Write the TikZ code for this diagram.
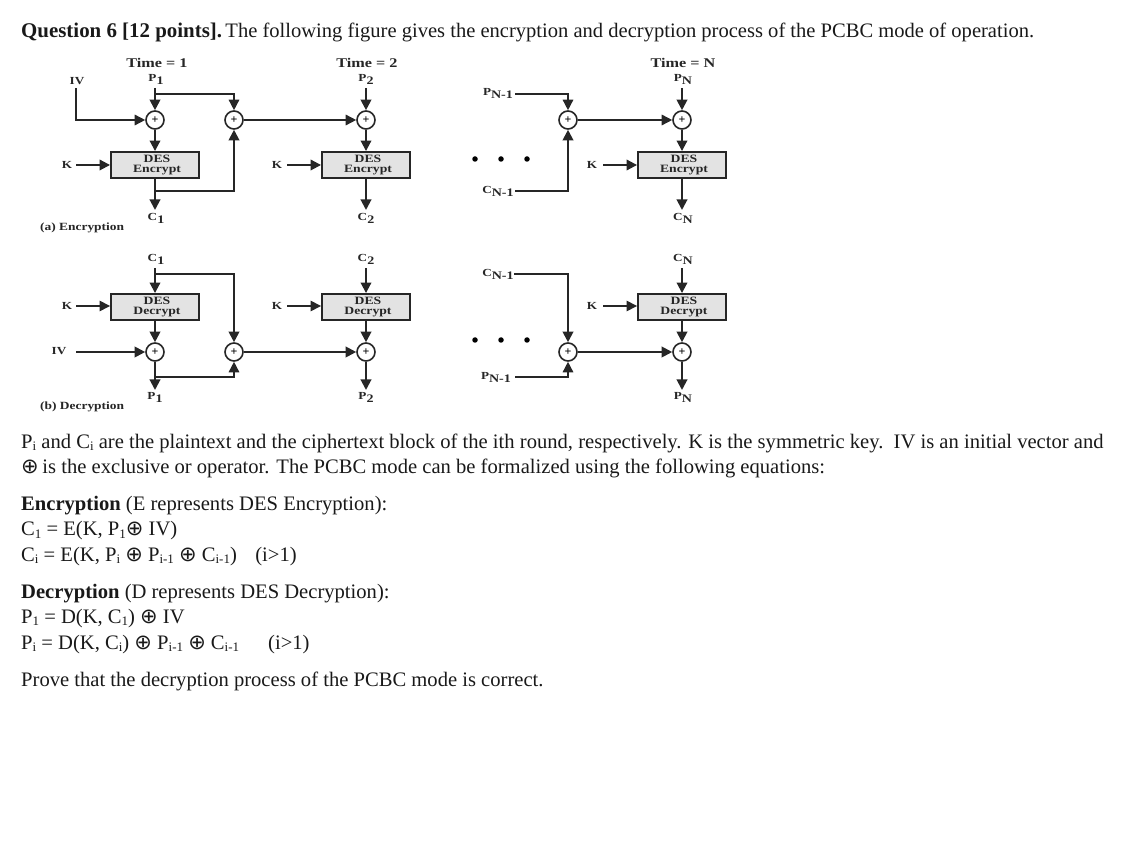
\documentclass[tikz,border=0pt]{standalone}
\usepackage{fontspec}
\setmainfont{Liberation Serif}
\newfontfamily\labfont[FakeStretch=1.22]{Liberation Serif}
\newfontfamily\symfont{DejaVu Sans}
\usetikzlibrary{arrows.meta}
\newcommand{\xo}{{\symfont\fontsize{21}{21}\selectfont ⊕}}
\newcommand{\sbx}[1]{\raisebox{-2.5pt}{\fontsize{13}{13}\selectfont #1}}
\newcommand{\lsb}[1]{\raisebox{-3pt}{\fontsize{11.5}{11.5}\selectfont #1}}
\newcommand{\boxlabel}[1]{\hspace*{4pt}DES\\[-1pt]\hspace*{4pt}#1}
\tikzset{
  txt/.style={anchor=base west,inner sep=0pt,font=\fontsize{20.6}{24}\selectfont,text=black!90},
  lab/.style={inner sep=0pt,font=\labfont\bfseries\fontsize{10.8}{11}\selectfont,text=black!85},
  timelab/.style={inner sep=0pt,font=\labfont\bfseries\fontsize{13.3}{14}\selectfont,text=black!85},
  captext/.style={anchor=west,inner sep=0pt,font=\labfont\bfseries\fontsize{11}{11}\selectfont,text=black!85},
  desbox/.style={draw=black!85,line width=1.9pt,fill=black!11,minimum width=88pt,minimum height=26pt,inner sep=0pt,align=center,font=\labfont\bfseries\fontsize{11.2}{10.5}\selectfont,text=black!85},
  xorn/.style={circle,draw=black!85,fill=white,line width=1.6pt,minimum size=18pt,inner sep=0pt,font=\bfseries\fontsize{12}{12}\selectfont},
  conn/.style={draw=black!85,line width=2pt},
  arr/.style={conn,-{Triangle[length=10.5pt,width=10.5pt]}},
  thinconn/.style={draw=black!85,line width=1.5pt},
  thinarr/.style={thinconn,-{Triangle[length=10.5pt,width=10.5pt]}},
  dotn/.style={circle,fill=black,inner sep=0pt,minimum size=5.5pt}
}
\begin{document}
\begin{tikzpicture}[x=1pt,y=-1pt]
\useasboundingbox (0,0) rectangle (1130,866);
% ---------- encryption ----------
\node[timelab] (t1) at (157,63) {Time = 1};
\node[timelab] (t2) at (367,63) {Time = 2};
\node[timelab] (tn) at (683,63) {Time = N};
\node[lab] (iva) at (77,81) {IV};
\node[lab] (p1a) at (156,79) {P\lsb{1}};
\node[lab] (p2a) at (366,79) {P\lsb{2}};
\node[lab] (pna) at (683,79) {P\lsb{N}};
\node[lab] (pn1a) at (498,93) {P\lsb{N-1}};
\node[xorn] (xa1) at (155,120) {+};
\node[xorn] (xa2) at (234,120) {+};
\node[xorn] (xa3) at (366,120) {+};
\node[xorn] (xa4) at (568,120) {+};
\node[xorn] (xa5) at (682,120) {+};
\node[desbox] (ea1) at (155,165) {\boxlabel{Encrypt}};
\node[desbox] (ea2) at (366,165) {\boxlabel{Encrypt}};
\node[desbox] (ea3) at (682,165) {\boxlabel{Encrypt}};
\node[lab] (ka1) at (67,165) {K};
\node[lab] (ka2) at (277,165) {K};
\node[lab] (ka3) at (592,165) {K};
\node[lab] (c1a) at (156,218) {C\lsb{1}};
\node[lab] (c2a) at (366,218) {C\lsb{2}};
\node[lab] (cna) at (683,218) {C\lsb{N}};
\node[lab] (cn1a) at (498,191) {C\lsb{N-1}};
\node[captext] (capa) at (40,228) {(a) Encryption};
\node[dotn] (da1) at (475,159) {};
\node[dotn] (da2) at (501,159) {};
\node[dotn] (da3) at (527,159) {};
\coordinate (iv0) at (76,88);
\coordinate (p1t) at (155,88);
\coordinate (p1b) at (155,94);
\coordinate (p2t) at (366,88);
\coordinate (pnt) at (682,88);
\coordinate (pn1s) at (515,94);
\coordinate (cn1s) at (515,191);
\coordinate (c1b) at (155,191);
\coordinate (c1e) at (155,210);
\coordinate (c2e) at (366,210);
\coordinate (cne) at (682,210);
\coordinate (ka1s) at (76,165);
\coordinate (ka2s) at (287,165);
\coordinate (ka3s) at (603,165);
\draw[thinarr] (iv0) |- (xa1);
\draw[arr] (p1t) -- (xa1);
\draw[thinarr] (p1b) -| (xa2);
\draw[thinarr] (xa2) -- (xa3);
\draw[arr] (p2t) -- (xa3);
\draw[thinarr] (pn1s) -| (xa4);
\draw[thinarr] (xa4) -- (xa5);
\draw[arr] (pnt) -- (xa5);
\draw[arr] (xa1) -- (ea1);
\draw[arr] (xa3) -- (ea2);
\draw[arr] (xa5) -- (ea3);
\draw[arr] (ka1s) -- (ea1);
\draw[arr] (ka2s) -- (ea2);
\draw[arr] (ka3s) -- (ea3);
\draw[arr] (ea1) -- (c1e);
\draw[arr] (ea2) -- (c2e);
\draw[arr] (ea3) -- (cne);
\draw[arr] (c1b) -| (xa2);
\draw[arr] (cn1s) -| (xa4);
% ---------- decryption ----------
\node[lab] (c1d) at (156,259) {C\lsb{1}};
\node[lab] (c2d) at (366,259) {C\lsb{2}};
\node[lab] (cnd) at (683,259) {C\lsb{N}};
\node[lab] (cn1d) at (498,274) {C\lsb{N-1}};
\node[desbox] (db1) at (155,307) {\boxlabel{Decrypt}};
\node[desbox] (db2) at (366,307) {\boxlabel{Decrypt}};
\node[desbox] (db3) at (682,307) {\boxlabel{Decrypt}};
\node[lab] (kb1) at (67,306) {K};
\node[lab] (kb2) at (277,306) {K};
\node[lab] (kb3) at (592,306) {K};
\node[lab] (ivb) at (59,351) {IV};
\node[xorn] (xb1) at (155,352) {+};
\node[xorn] (xb2) at (234,352) {+};
\node[xorn] (xb3) at (366,352) {+};
\node[xorn] (xb4) at (568,352) {+};
\node[xorn] (xb5) at (682,352) {+};
\node[lab] (p1d) at (155,397) {P\lsb{1}};
\node[lab] (p2d) at (366,397) {P\lsb{2}};
\node[lab] (pnd) at (683,397) {P\lsb{N}};
\node[lab] (pn1d) at (496,377) {P\lsb{N-1}};
\node[captext] (capb) at (40,407) {(b) Decryption};
\node[dotn] (db1d) at (475,340) {};
\node[dotn] (db2d) at (501,340) {};
\node[dotn] (db3d) at (527,340) {};
\coordinate (c1t) at (155,268);
\coordinate (c1r) at (155,274);
\coordinate (c2t) at (366,268);
\coordinate (cnt) at (682,268);
\coordinate (cn1r) at (514,274);
\coordinate (pn1r) at (515,377);
\coordinate (ivs) at (76,352);
\coordinate (p1r) at (155,377);
\coordinate (p1e) at (155,390);
\coordinate (p2e) at (366,390);
\coordinate (pne) at (682,390);
\coordinate (kb1s) at (76,306);
\coordinate (kb2s) at (287,306);
\coordinate (kb3s) at (603,306);
\draw[arr] (c1t) -- (db1);
\draw[arr] (c2t) -- (db2);
\draw[arr] (cnt) -- (db3);
\draw[arr] (c1r) -| (xb2);
\draw[arr] (cn1r) -| (xb4);
\draw[thinarr] (kb1s) -- (db1.west |- kb1s);
\draw[thinarr] (kb2s) -- (db2.west |- kb2s);
\draw[thinarr] (kb3s) -- (db3.west |- kb3s);
\draw[arr] (db1) -- (xb1);
\draw[arr] (db2) -- (xb3);
\draw[arr] (db3) -- (xb5);
\draw[arr] (ivs) -- (xb1);
\draw[arr] (xb2) -- (xb3);
\draw[arr] (xb4) -- (xb5);
\draw[arr] (xb1) -- (p1e);
\draw[arr] (xb3) -- (p2e);
\draw[arr] (xb5) -- (pne);
\draw[thinarr] (p1r) -| (xb2);
\draw[thinarr] (pn1r) -| (xb4);
% ---------- text ----------
\node[txt] (l1) at (21,37.5) {{\fontsize{20.9}{24}\selectfont\textbf{Question 6 [12 points].}}\hspace{-3.5pt} \fontsize{20.55}{24}\selectfont The following figure gives the encryption and decryption process of the PCBC mode of operation.};
\node[txt] (l2) at (21,448) {P\sbx{i} and C\sbx{i} are the plaintext and the ciphertext block of the ith round, respectively. K is the symmetric key.\ \ IV is an initial vector and};
\node[txt] (l3) at (21,473) {\xo{}\hspace{-1.5pt} is the exclusive or operator. The PCBC mode can be formalized using the following equations:};
\node[txt] (l4) at (21,510.5) {\textbf{Encryption} (E represents DES Encryption):};
\node[txt] (l5) at (21,535.5) {C\sbx{1} = E(K, P\sbx{1}\xo{} IV)};
\node[txt] (l6) at (21,561) {C\sbx{i} = E(K, P\sbx{i} \xo{} P\sbx{i-1} \xo{} C\sbx{i-1})\ \ \ \hspace{3pt}(i>1)};
\node[txt] (l7) at (21,598) {\textbf{Decryption} (D represents DES Decryption):};
\node[txt] (l8) at (21,623) {P\sbx{1} = D(K, C\sbx{1}) \xo{} IV};
\node[txt] (l9) at (21,649) {P\sbx{i} = D(K, C\sbx{i}) \xo{} P\sbx{i-1} \xo{} C\sbx{i-1}\hspace{29pt}(i>1)};
\node[txt] (l10) at (21,686) {Prove that the decryption process of the PCBC mode is correct.};
\end{tikzpicture}
\end{document}
